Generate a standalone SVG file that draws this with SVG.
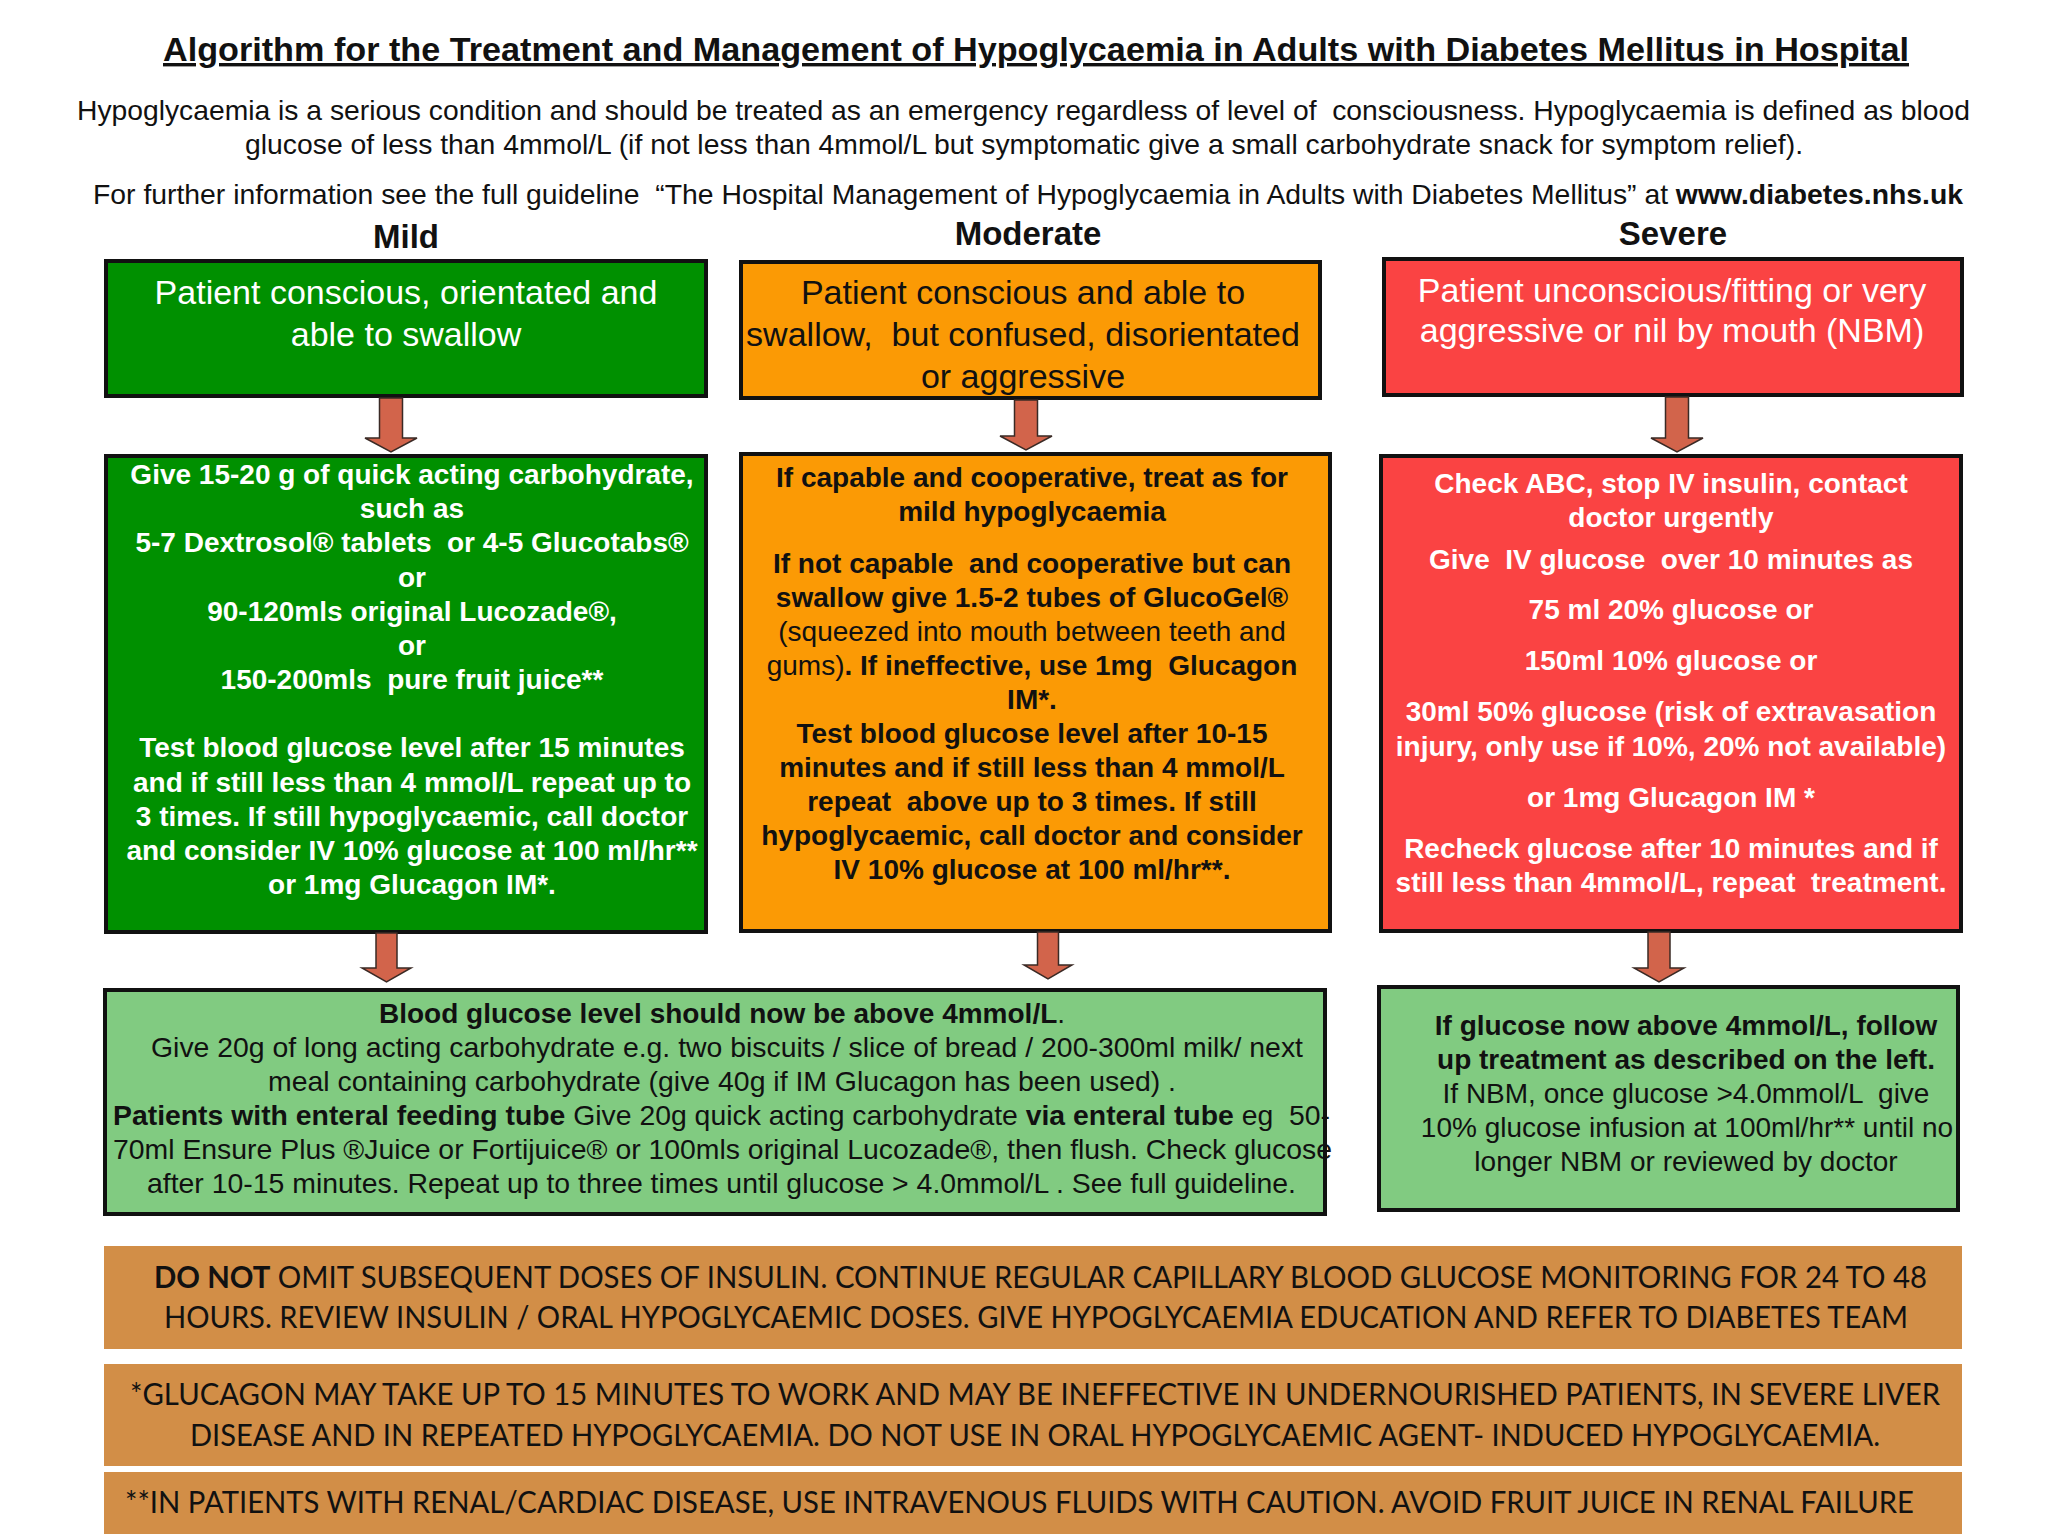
<svg xmlns="http://www.w3.org/2000/svg" width="2048" height="1536" viewBox="0 0 2048 1536">
<style>
text{font-family:"Liberation Sans",Arial,sans-serif;fill:#111;}
.t{font-size:34px;font-weight:bold;}
.p{font-size:28px;}
.h{font-size:33px;font-weight:bold;text-anchor:middle;}
.bx{stroke:#111;stroke-width:4;}
.g1{fill:#009000;}
.o1{fill:#FB9A05;}
.r1{fill:#FA4343;}
.lg{fill:#81CB81;}
.tan{fill:#D28E47;}
.w{fill:#fff;}
.top{font-size:34px;text-anchor:middle;}
.b2{font-size:28px;font-weight:bold;text-anchor:middle;}
.reg{font-weight:normal;}
.bold{font-weight:bold;}
.bar{font-family:Lato,"Open Sans",sans-serif;font-size:30px;fill:#111;}
.arr{fill:#D2644B;stroke:#3a2a25;stroke-width:1.5;}
</style>

<g id="header">
<text class="t" x="163" y="61" textLength="1746" lengthAdjust="spacingAndGlyphs" text-decoration="underline">Algorithm for the Treatment and Management of Hypoglycaemia in Adults with Diabetes Mellitus in Hospital</text>
<text class="p" x="77" y="120" textLength="1893" lengthAdjust="spacingAndGlyphs" xml:space="preserve">Hypoglycaemia is a serious condition and should be treated as an emergency regardless of level of  consciousness. Hypoglycaemia is defined as blood</text>
<text class="p" x="245" y="154" textLength="1558" lengthAdjust="spacingAndGlyphs">glucose of less than 4mmol/L (if not less than 4mmol/L but symptomatic give a small carbohydrate snack for symptom relief).</text>
<text class="p" x="93" y="204" textLength="1870" lengthAdjust="spacingAndGlyphs" xml:space="preserve">For further information see the full guideline  “The Hospital Management of Hypoglycaemia in Adults with Diabetes Mellitus” at <tspan class="bold">www.diabetes.nhs.uk</tspan></text>
</g>

<g id="headings">
<text class="h" x="406" y="248">Mild</text>
<text class="h" x="1028" y="245">Moderate</text>
<text class="h" x="1673" y="245">Severe</text>
</g>

<g id="mild-assess">
<rect class="bx g1" x="106" y="261" width="600" height="135"/>
<text class="top w" x="406" y="304">Patient conscious, orientated and</text>
<text class="top w" x="406" y="346">able to swallow</text>
</g>

<g id="moderate-assess">
<rect class="bx o1" x="741" y="262" width="579" height="136"/>
<text class="top" x="1023" y="304">Patient conscious and able to</text>
<text class="top" x="1023" y="346" xml:space="preserve">swallow,  but confused, disorientated</text>
<text class="top" x="1023" y="388">or aggressive</text>
</g>

<g id="severe-assess">
<rect class="bx r1" x="1384" y="259" width="578" height="136"/>
<text class="top w" x="1672" y="302">Patient unconscious/fitting or very</text>
<text class="top w" x="1672" y="342">aggressive or nil by mouth (NBM)</text>
</g>

<g id="mild-treat">
<rect class="bx g1" x="106" y="456" width="600" height="476"/>
<g class="b2">
<text class="b2 w" x="412" y="484">Give 15-20 g of quick acting carbohydrate,</text>
<text class="b2 w" x="412" y="518">such as</text>
<text class="b2 w" x="412" y="552" xml:space="preserve">5-7 Dextrosol® tablets  or 4-5 Glucotabs®</text>
<text class="b2 w" x="412" y="587">or</text>
<text class="b2 w" x="412" y="621">90-120mls original Lucozade®,</text>
<text class="b2 w" x="412" y="655">or</text>
<text class="b2 w" x="412" y="689" xml:space="preserve">150-200mls  pure fruit juice**</text>
<text class="b2 w" x="412" y="757">Test blood glucose level after 15 minutes</text>
<text class="b2 w" x="412" y="792">and if still less than 4 mmol/L repeat up to</text>
<text class="b2 w" x="412" y="826">3 times. If still hypoglycaemic, call doctor</text>
<text class="b2 w" x="412" y="860">and consider IV 10% glucose at 100 ml/hr**</text>
<text class="b2 w" x="412" y="894">or 1mg Glucagon IM*.</text>
</g>
</g>

<g id="moderate-treat">
<rect class="bx o1" x="741" y="454" width="589" height="477"/>
<text class="b2" x="1032" y="487">If capable and cooperative, treat as for</text>
<text class="b2" x="1032" y="521">mild hypoglycaemia</text>
<text class="b2" x="1032" y="573" xml:space="preserve">If not capable  and cooperative but can</text>
<text class="b2" x="1032" y="607">swallow give 1.5-2 tubes of GlucoGel®</text>
<text class="b2 reg" x="1032" y="641">(squeezed into mouth between teeth and</text>
<text class="b2" x="1032" y="675" xml:space="preserve"><tspan class="reg">gums)</tspan>. If ineffective, use 1mg  Glucagon</text>
<text class="b2" x="1032" y="709">IM*.</text>
<text class="b2" x="1032" y="743">Test blood glucose level after 10-15</text>
<text class="b2" x="1032" y="777">minutes and if still less than 4 mmol/L</text>
<text class="b2" x="1032" y="811" xml:space="preserve">repeat  above up to 3 times. If still</text>
<text class="b2" x="1032" y="845">hypoglycaemic, call doctor and consider</text>
<text class="b2" x="1032" y="879">IV 10% glucose at 100 ml/hr**.</text>
</g>

<g id="severe-treat">
<rect class="bx r1" x="1381" y="456" width="580" height="475"/>
<text class="b2 w" x="1671" y="493">Check ABC, stop IV insulin, contact</text>
<text class="b2 w" x="1671" y="527">doctor urgently</text>
<text class="b2 w" x="1671" y="569" xml:space="preserve">Give  IV glucose  over 10 minutes as</text>
<text class="b2 w" x="1671" y="619">75 ml 20% glucose or</text>
<text class="b2 w" x="1671" y="670">150ml 10% glucose or</text>
<text class="b2 w" x="1671" y="721">30ml 50% glucose (risk of extravasation</text>
<text class="b2 w" x="1671" y="756">injury, only use if 10%, 20% not available)</text>
<text class="b2 w" x="1671" y="807">or 1mg Glucagon IM *</text>
<text class="b2 w" x="1671" y="858">Recheck glucose after 10 minutes and if</text>
<text class="b2 w" x="1671" y="892" xml:space="preserve">still less than 4mmol/L, repeat  treatment.</text>
</g>

<g id="followup-left">
<rect class="bx lg" x="105" y="990" width="1220" height="224"/>
<text class="p" x="722" y="1023" text-anchor="middle"><tspan class="bold">Blood glucose level should now be above 4mmol/L</tspan>.</text>
<text class="p" x="151" y="1057" textLength="1152" lengthAdjust="spacingAndGlyphs">Give 20g of long acting carbohydrate e.g. two biscuits / slice of bread / 200-300ml milk/ next</text>
<text class="p" x="268" y="1091" textLength="908" lengthAdjust="spacingAndGlyphs">meal containing carbohydrate (give 40g if IM Glucagon has been used) .</text>
<text class="p" x="113" y="1125" textLength="1217" lengthAdjust="spacingAndGlyphs" xml:space="preserve"><tspan class="bold">Patients with enteral feeding tube</tspan> Give 20g quick acting carbohydrate <tspan class="bold">via enteral tube</tspan> eg  50-</text>
<text class="p" x="113" y="1159" textLength="1219" lengthAdjust="spacingAndGlyphs">70ml Ensure Plus ®Juice or Fortijuice® or 100mls original Lucozade®, then flush. Check glucose</text>
<text class="p" x="147" y="1193" textLength="1149" lengthAdjust="spacingAndGlyphs">after 10-15 minutes. Repeat up to three times until glucose &gt; 4.0mmol/L . See full guideline.</text>
</g>

<g id="followup-right">
<rect class="bx lg" x="1379" y="987" width="579" height="223"/>
<text class="b2" x="1686" y="1035">If glucose now above 4mmol/L, follow</text>
<text class="b2" x="1686" y="1069">up treatment as described on the left.</text>
<text class="b2 reg" x="1686" y="1103" xml:space="preserve">If NBM, once glucose &gt;4.0mmol/L  give</text>
<text class="b2 reg" x="1687" y="1137">10% glucose infusion at 100ml/hr** until no</text>
<text class="b2 reg" x="1686" y="1171">longer NBM or reviewed by doctor</text>
</g>

<g id="note-insulin">
<rect class="tan" x="104" y="1246" width="1858" height="103"/>
<text class="bar" x="154" y="1288" textLength="1773" lengthAdjust="spacingAndGlyphs"><tspan font-weight="bold">DO NOT</tspan> OMIT SUBSEQUENT DOSES OF INSULIN. CONTINUE REGULAR CAPILLARY BLOOD GLUCOSE MONITORING FOR 24 TO 48</text>
<text class="bar" x="164" y="1328" textLength="1744" lengthAdjust="spacingAndGlyphs">HOURS. REVIEW INSULIN / ORAL HYPOGLYCAEMIC DOSES. GIVE HYPOGLYCAEMIA EDUCATION AND REFER TO DIABETES TEAM</text>
</g>

<g id="note-glucagon">
<rect class="tan" x="104" y="1364" width="1858" height="102"/>
<text class="bar" x="130" y="1405" textLength="1810" lengthAdjust="spacingAndGlyphs">*GLUCAGON MAY TAKE UP TO 15 MINUTES TO WORK AND MAY BE INEFFECTIVE IN UNDERNOURISHED PATIENTS, IN SEVERE LIVER</text>
<text class="bar" x="190" y="1446" textLength="1690" lengthAdjust="spacingAndGlyphs">DISEASE AND IN REPEATED HYPOGLYCAEMIA. DO NOT USE IN ORAL HYPOGLYCAEMIC AGENT- INDUCED HYPOGLYCAEMIA.</text>
</g>

<g id="note-renal">
<rect class="tan" x="104" y="1472" width="1858" height="62"/>
<text class="bar" x="125" y="1513" textLength="1789" lengthAdjust="spacingAndGlyphs">**IN PATIENTS WITH RENAL/CARDIAC DISEASE, USE INTRAVENOUS FLUIDS WITH CAUTION. AVOID FRUIT JUICE IN RENAL FAILURE</text>
</g>

<g id="connectors">
<path class="arr" d="M379.5,398 H402.5 V438 H417 L391,452 L365,438 H379.5 Z"/>
<path class="arr" d="M1014.5,400 H1037.5 V436 H1052 L1026,450 L1000,436 H1014.5 Z"/>
<path class="arr" d="M1665.5,397 H1688.5 V438 H1703 L1677,452 L1651,438 H1665.5 Z"/>
<path class="arr" d="M376,933 H397 V968 H411 L386.5,982 L362,968 H376 Z"/>
<path class="arr" d="M1037.5,932 H1058.5 V965 H1072 L1048,979 L1024,965 H1037.5 Z"/>
<path class="arr" d="M1648,932 H1670 V968 H1684 L1659,982 L1634,968 H1648 Z"/>
</g>
</svg>
